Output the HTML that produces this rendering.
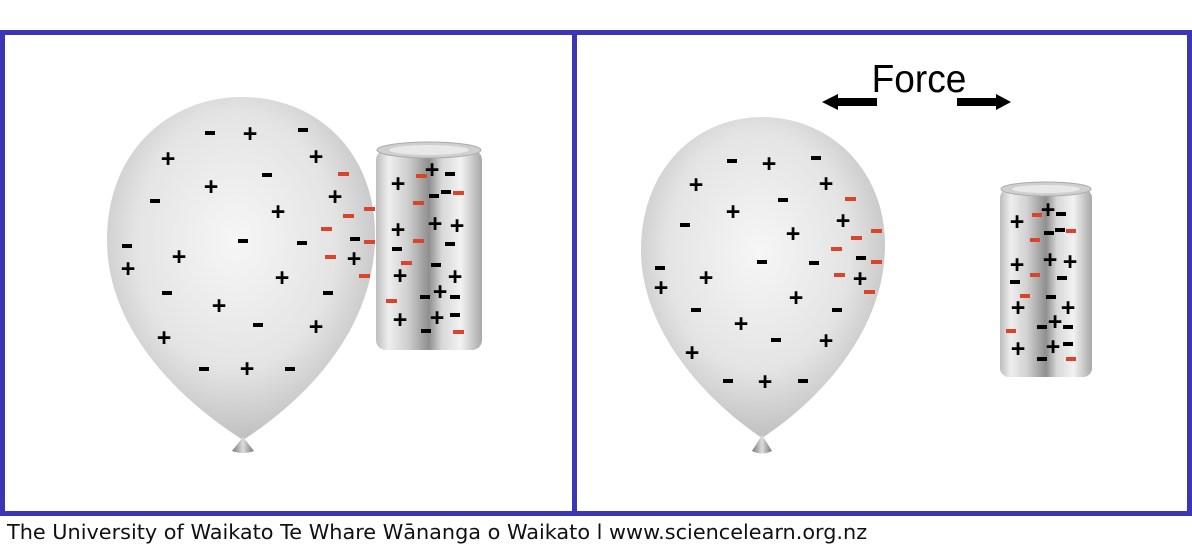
<!DOCTYPE html>
<html><head><meta charset="utf-8"><style>
body{margin:0;background:#fff;width:1192px;height:556px;overflow:hidden;position:relative;font-family:"Liberation Sans",sans-serif}
svg{position:absolute;left:0;top:0}
.cap{position:absolute;left:7px;top:520px;font-family:"DejaVu Sans",sans-serif;font-size:20.8px;color:#111;white-space:nowrap}
</style></head><body>
<svg width="1192" height="556" viewBox="0 0 1192 556">
<defs>
<radialGradient id="bg" cx="0.48" cy="0.42" r="0.62">
<stop offset="0" stop-color="#f6f6f6"/><stop offset="0.6" stop-color="#e4e4e4"/><stop offset="1" stop-color="#b9b9b9"/>
</radialGradient>
<linearGradient id="cg" x1="0" x2="1" y1="0" y2="0">
<stop offset="0" stop-color="#bdbdbd"/><stop offset="0.12" stop-color="#eeeeee"/><stop offset="0.3" stop-color="#cfcfcf"/><stop offset="0.5" stop-color="#8f8f8f"/><stop offset="0.62" stop-color="#d8d8d8"/><stop offset="0.8" stop-color="#f2f2f2"/><stop offset="1" stop-color="#a8a8a8"/>
</linearGradient>
<linearGradient id="kg" x1="0" x2="1"><stop offset="0" stop-color="#777"/><stop offset="0.5" stop-color="#ddd"/><stop offset="1" stop-color="#777"/></linearGradient>
</defs>
<rect x="2.5" y="32.5" width="1187" height="481" fill="none" stroke="#3a36b4" stroke-width="5"/>
<rect x="572" y="32" width="5" height="482" fill="#3a36b4"/>

<path d="M243,440 C180,400 107,330 107,240 C107,150 170,97 242,97 C315,97 375,150 375,235 C375,330 305,400 243,440 Z" fill="url(#bg)"/>
<path d="M243,437 L232,451 Q243,455 254,451 Z" fill="url(#kg)"/>
<rect x="376" y="150" width="106" height="200" rx="10" fill="url(#cg)"/>
<ellipse cx="429" cy="150" rx="52" ry="8" fill="#cfcfcf" stroke="#aaa"/>
<ellipse cx="429" cy="150" rx="40" ry="5" fill="#e8e8e8"/>

<path d="M762,438 C705,400 641,330 641,250 C641,170 695,117 762,117 C830,117 885,170 885,245 C885,330 820,400 762,438 Z" fill="url(#bg)"/>
<path d="M762,435 L752,451 Q762,456 772,451 Z" fill="url(#kg)"/>
<rect x="1000" y="189" width="92" height="188" rx="9" fill="url(#cg)"/>
<ellipse cx="1046" cy="189" rx="45" ry="7" fill="#cfcfcf" stroke="#aaa"/>
<ellipse cx="1046" cy="189" rx="34" ry="4" fill="#e8e8e8"/>

<text x="919" y="92" text-anchor="middle" font-family="Liberation Sans" font-size="39" fill="#000" transform="translate(919 0) scale(0.95 1) translate(-919 0)">Force</text>
<path d="M877,98 L838,98 L838,94 L822,102 L838,110 L838,106 L877,106 Z" fill="#000"/>
<path d="M957,98 L996,98 L996,94 L1011,102 L996,110 L996,106 L957,106 Z" fill="#000"/>

<g font-family="Liberation Sans" font-size="25" font-weight="bold" fill="#000" text-anchor="middle">
<text x="250" y="142">+</text><text x="168" y="167">+</text><text x="316" y="165">+</text><text x="211" y="195">+</text><text x="335" y="205">+</text><text x="278" y="220">+</text><text x="179" y="265">+</text><text x="128" y="277">+</text><text x="354" y="267">+</text><text x="282" y="286">+</text><text x="219" y="314">+</text><text x="316" y="335">+</text><text x="164" y="346">+</text><text x="247" y="377">+</text>
<text x="398" y="192">+</text><text x="432" y="178">+</text><text x="398" y="238">+</text><text x="435" y="232">+</text><text x="457" y="234">+</text><text x="400" y="284">+</text><text x="455" y="285">+</text><text x="440" y="300">+</text><text x="400" y="328">+</text><text x="437" y="326">+</text>
<text x="769" y="172">+</text><text x="696" y="193">+</text><text x="826" y="192">+</text><text x="733" y="220">+</text><text x="843" y="229">+</text><text x="793" y="242">+</text><text x="706" y="286">+</text><text x="661" y="296">+</text><text x="860" y="287">+</text><text x="796" y="306">+</text><text x="741" y="332">+</text><text x="826" y="349">+</text><text x="692" y="361">+</text><text x="765" y="390">+</text>
<text x="1017" y="230">+</text><text x="1048" y="218">+</text><text x="1017" y="273">+</text><text x="1050" y="268">+</text><text x="1070" y="270">+</text><text x="1018" y="316">+</text><text x="1068" y="316">+</text><text x="1055" y="330">+</text><text x="1018" y="357">+</text><text x="1053" y="355">+</text>
</g>
<g fill="#000">
<rect x="205" y="131" width="10" height="4"/><rect x="298" y="128" width="10" height="4"/><rect x="262" y="173" width="10" height="4"/><rect x="150" y="199" width="10" height="4"/><rect x="238" y="239" width="10" height="4"/><rect x="297" y="241" width="10" height="4"/><rect x="122" y="244" width="10" height="4"/><rect x="162" y="291" width="10" height="4"/><rect x="323" y="291" width="10" height="4"/><rect x="253" y="323" width="10" height="4"/><rect x="199" y="367" width="10" height="4"/><rect x="285" y="367" width="10" height="4"/>
<rect x="445" y="172" width="10" height="4"/><rect x="429" y="194" width="10" height="4"/><rect x="441" y="190" width="10" height="4"/><rect x="350" y="237" width="10" height="4"/><rect x="392" y="247" width="10" height="4"/><rect x="445" y="242" width="10" height="4"/><rect x="431" y="263" width="10" height="4"/><rect x="420" y="295" width="10" height="4"/><rect x="450" y="295" width="10" height="4"/><rect x="450" y="313" width="10" height="4"/><rect x="421" y="329" width="10" height="4"/>
<rect x="727" y="159" width="10" height="4"/><rect x="811" y="156" width="10" height="4"/><rect x="778" y="198" width="10" height="4"/><rect x="680" y="223" width="10" height="4"/><rect x="757" y="260" width="10" height="4"/><rect x="809" y="261" width="10" height="4"/><rect x="655" y="266" width="10" height="4"/><rect x="856" y="256" width="10" height="4"/><rect x="691" y="308" width="10" height="4"/><rect x="832" y="308" width="10" height="4"/><rect x="771" y="338" width="10" height="4"/><rect x="723" y="379" width="10" height="4"/><rect x="798" y="379" width="10" height="4"/>
<rect x="1056" y="212" width="10" height="4"/><rect x="1044" y="231" width="10" height="4"/><rect x="1055" y="228" width="10" height="4"/><rect x="1010" y="280" width="10" height="4"/><rect x="1057" y="276" width="10" height="4"/><rect x="1046" y="295" width="10" height="4"/><rect x="1037" y="325" width="10" height="4"/><rect x="1063" y="325" width="10" height="4"/><rect x="1063" y="342" width="10" height="4"/><rect x="1037" y="357" width="10" height="4"/>
</g>
<g fill="#d9452a">
<rect x="338" y="172" width="11" height="4"/><rect x="364" y="207" width="11" height="4"/><rect x="343" y="214" width="11" height="4"/><rect x="321" y="227" width="11" height="4"/><rect x="364" y="240" width="11" height="4"/><rect x="325" y="255" width="11" height="4"/><rect x="359" y="274" width="11" height="4"/>
<rect x="416" y="174" width="11" height="4"/><rect x="453" y="191" width="11" height="4"/><rect x="413" y="201" width="11" height="4"/><rect x="413" y="239" width="11" height="4"/><rect x="401" y="261" width="11" height="4"/><rect x="386" y="299" width="11" height="4"/><rect x="453" y="330" width="11" height="4"/>
<rect x="845" y="197" width="11" height="4"/><rect x="871" y="229" width="11" height="4"/><rect x="851" y="236" width="11" height="4"/><rect x="831" y="247" width="11" height="4"/><rect x="871" y="260" width="11" height="4"/><rect x="834" y="273" width="11" height="4"/><rect x="864" y="290" width="11" height="4"/>
<rect x="1032" y="213" width="10" height="4"/><rect x="1066" y="229" width="10" height="4"/><rect x="1030" y="238" width="10" height="4"/><rect x="1030" y="273" width="10" height="4"/><rect x="1020" y="294" width="10" height="4"/><rect x="1006" y="329" width="10" height="4"/><rect x="1066" y="357" width="10" height="4"/>
</g>
</svg>
<div class="cap">The University of Waikato Te Whare Wānanga o Waikato l www.sciencelearn.org.nz</div>
</body></html>
